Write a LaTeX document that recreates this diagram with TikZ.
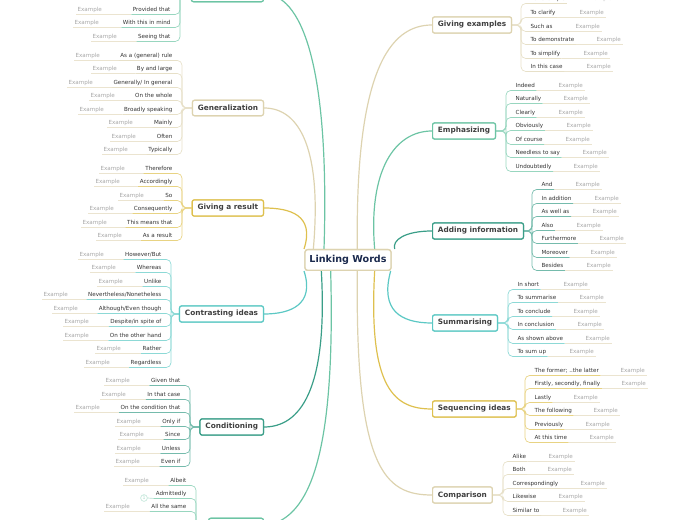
\documentclass[tikz,border=0pt]{standalone}
\usepackage{fontspec}
\setmainfont{DejaVu Sans}
\definecolor{cGreen}{HTML}{6CC4A4}
\definecolor{cBeige}{HTML}{DDD3B0}
\definecolor{cYellow}{HTML}{DEC04E}
\definecolor{cTurq}{HTML}{5CC8C4}
\definecolor{cDark}{HTML}{3A9E88}
\definecolor{cNavy}{HTML}{1B2A4E}
\tikzset{
 leaf/.style={font=\fontsize{4.2}{5}\selectfont, text=black!80, inner sep=1pt, text height=3.4pt, text depth=0.9pt},
 ex/.style={leaf, text=black!35},
 topic/.style={draw=#1, line width=0.9pt, rounded corners=1.5pt, fill=white, font=\fontsize{5.5}{7}\bfseries, text=black!75, minimum height=11.5pt, inner xsep=4pt},
 main/.style={draw=#1, line width=0.9pt},
 twig/.style={draw=#1, line width=0.5pt, rounded corners=3.5pt},
}
\newcommand\branchL[5]{%
 \foreach \y/\t/\ex [count=\i] in {#5} {
  \node[leaf,anchor=east] (#1\i) at (#3,\y) {\t};
  \node[ex,anchor=west] (#1x\i) at (\ex,\y) {Example};
  \draw[cBeige!60,line width=0.5pt] (#1x\i.south west) -- (#1\i.south west);
  \draw[twig=#4!70] (#2.west) -| ([xshift=6]#1\i.south east) -- (#1\i.south west);
 }}
\newcommand\branchR[5]{%
 \foreach \y/\t/\ex [count=\i] in {#5} {
  \node[leaf,anchor=west] (#1\i) at (#3,\y) {\t};
  \node[ex,anchor=west] (#1x\i) at (\ex,\y) {Example};
  \draw[cBeige!60,line width=0.5pt] (#1\i.south east) -- (#1x\i.south east);
  \draw[twig=#4!70] (#2.east) -| ([xshift=-6]#1\i.south west) -- (#1\i.south east);
 }}
\begin{document}
\begin{tikzpicture}[x=0.75pt,y=-0.75pt]
\useasboundingbox (0,0) rectangle (696,520);
\node[draw=cBeige, line width=1pt, rounded corners=2pt, fill=white, minimum width=64pt, minimum height=15.5pt, font=\fontsize{7.2}{8}\bfseries, text=cNavy] (c) at (348,260) {Linking Words};
\node[topic=cGreen, anchor=east, minimum width=54pt] (tl) at (264,-6) {};
\node[topic=cBeige, anchor=east] (gen) at (264,108) {Generalization};
\node[topic=cYellow, anchor=east] (res) at (264,208) {Giving a result};
\node[topic=cTurq, anchor=east] (con) at (264,314) {Contrasting ideas};
\node[topic=cDark, anchor=east] (cond) at (264,427) {Conditioning};
\node[topic=cGreen, anchor=east, minimum width=41pt] (bl) at (264,526) {};
\node[topic=cBeige, anchor=west] (exa) at (432,25) {Giving examples};
\node[topic=cGreen, anchor=west] (emp) at (432,131) {Emphasizing};
\node[topic=cDark, anchor=west] (add) at (432,231) {Adding information};
\node[topic=cTurq, anchor=west] (sum) at (432,323) {Summarising};
\node[topic=cYellow, anchor=west] (seq) at (432,409) {Sequencing ideas};
\node[topic=cBeige, anchor=west] (cmp) at (432,495) {Comparison};
\draw[main=cGreen] ([xshift=-18]c.north) .. controls (330,60) and (300,-6) .. (tl.east);
\draw[main=cBeige] ([xshift=-26]c.north) .. controls (322,150) and (300,108) .. (gen.east);
\draw[main=cYellow] ([xshift=-33]c.north) .. controls (315,215) and (290,208) .. (res.east);
\draw[main=cTurq] ([xshift=-33]c.south) .. controls (315,305) and (290,314) .. (con.east);
\draw[main=cDark] ([xshift=-20]c.south) .. controls (328,390) and (300,427) .. (cond.east);
\draw[main=cGreen] ([xshift=-13]c.south) .. controls (336,470) and (305,520) .. (bl.east);
\draw[main=cBeige] ([xshift=7]c.north) .. controls (355,70) and (390,25) .. (exa.west);
\draw[main=cGreen] ([xshift=20]c.north) .. controls (368,170) and (395,131) .. (emp.west);
\draw[main=cDark] ([xshift=35]c.north) .. controls (392,240) and (405,231) .. (add.west);
\draw[main=cTurq] ([xshift=32]c.south) .. controls (380,310) and (400,323) .. (sum.west);
\draw[main=cYellow] ([xshift=20]c.south) .. controls (368,390) and (395,409) .. (seq.west);
\draw[main=cBeige] ([xshift=7]c.south) .. controls (355,470) and (385,495) .. (cmp.west);
\node[draw=cBeige, line width=1pt, rounded corners=2pt, fill=white, minimum width=64pt, minimum height=15.5pt, font=\fontsize{7.2}{8}\bfseries, text=cNavy] at (348,260) {Linking Words};
% left branches
\branchL{tla}{tl}{172}{cGreen}{10/Provided that/76, 23/With this in mind/73, 37/Seeing that/91}
\branchL{gena}{gen}{174}{cBeige}{56/As a (general) rule/74, 69/By and large/91, 83/{Generally/ In general}/67, 96/On the whole/89, 110/Broadly speaking/78, 123/Mainly/107, 137/Often/110, 150/Typically/102}
\branchL{resa}{res}{174}{cYellow}{169/Therefore/99, 182/Accordingly/94, 196/So/118, 209/Consequently/88, 223/This means that/81, 236/As a result/96}
\branchL{cona}{con}{163}{cTurq}{255/{However/But}/78, 268/Whereas/90, 282/Unlike/97, 295/{Nevertheless/Nonetheless}/42, 309/{Although/Even though}/52, 322/{Despite/in spite of}/63, 336/On the other hand/63, 349/Rather/95, 363/Regardless/84}
\branchL{conda}{cond}{182}{cDark}{381/Given that/104, 395/In that case/100, 408/On the condition that/74, 422/Only if/115, 435/Since/118, 449/Unless/115, 462/Even if/114}
% bottom-left branch
\node[leaf,anchor=east] (bl1) at (188,481) {Albeit};
\node[ex,anchor=west] (blx1) at (123,481) {Example};
\node[leaf,anchor=east] (bl2) at (188,494) {Admittedly};
\node[leaf,anchor=east] (bl3) at (188,507) {All the same};
\node[ex,anchor=west] (blx3) at (104,507) {Example};
\node[draw=cGreen!50, circle, inner sep=0.6pt, font=\fontsize{3.5}{4}\selectfont, text=cGreen!60] (blc) at (144,498) {1};
\draw[cBeige!60,line width=0.5pt] (blx1.south west) -- (bl1.south west);
\draw[cBeige!60,line width=0.5pt] (blx3.south west) -- (bl3.south west);
\draw[cGreen!50,line width=0.5pt] (blc.east) -- (bl2.south west);
\foreach \i in {1,2,3} \draw[twig=cGreen!70] (bl.west) -| ([xshift=6]bl\i.south east) -- (bl\i.south west);
% right branches
\branchR{exaa}{exa}{529}{cBeige}{13/To clarify/578, 27/Such as/574, 40/To demonstrate/595, 54/To simplify/582, 67/In this case/585}
\node[leaf,anchor=west] (exa0) at (529,-1) {For example};
\node[ex,anchor=west] at (586,-1) {Example};
\draw[twig=cBeige!70] (exa.east) -| ([xshift=-6]exa0.south west) -- (exa0.south east);
\branchR{empa}{emp}{514}{cGreen}{86/Indeed/557, 99/Naturally/562, 113/Clearly/557, 126/Obviously/565, 140/Of course/564, 153/Needless to say/581, 167/Undoubtedly/572}
\branchR{adda}{add}{540}{cDark}{185/And/574, 199/In addition/593, 212/As well as/591, 226/Also/575, 239/Furthermore/598, 253/Moreover/589, 266/Besides/585}
\branchR{suma}{sum}{516}{cTurq}{285/In short/562, 298/To summarise/578, 312/To conclude/572, 325/In conclusion/576, 339/As shown above/584, 352/To sum up/568}
\branchR{seqa}{seq}{533}{cYellow}{371/{The former; ..the latter}/619, 384/{Firstly, secondly, finally}/620, 398/Lastly/572, 411/The following/592, 425/Previously/584, 438/At this time/588}
\branchR{cmpa}{cmp}{511}{cBeige}{457/Alike/547, 470/Both/546, 484/Correspondingly/579, 497/Likewise/557, 511/Similar to/561}
% redraw topic boxes on top of connectors
\node[topic=cBeige, anchor=east] at (264,108) {Generalization};
\node[topic=cYellow, anchor=east] at (264,208) {Giving a result};
\node[topic=cTurq, anchor=east] at (264,314) {Contrasting ideas};
\node[topic=cDark, anchor=east] at (264,427) {Conditioning};
\node[topic=cGreen, anchor=east, minimum width=54pt] at (264,-6) {};
\node[topic=cGreen, anchor=east, minimum width=41pt] at (264,526) {};
\node[topic=cBeige, anchor=west] at (432,25) {Giving examples};
\node[topic=cGreen, anchor=west] at (432,131) {Emphasizing};
\node[topic=cDark, anchor=west] at (432,231) {Adding information};
\node[topic=cTurq, anchor=west] at (432,323) {Summarising};
\node[topic=cYellow, anchor=west] at (432,409) {Sequencing ideas};
\node[topic=cBeige, anchor=west] at (432,495) {Comparison};
\end{tikzpicture}
\end{document}
